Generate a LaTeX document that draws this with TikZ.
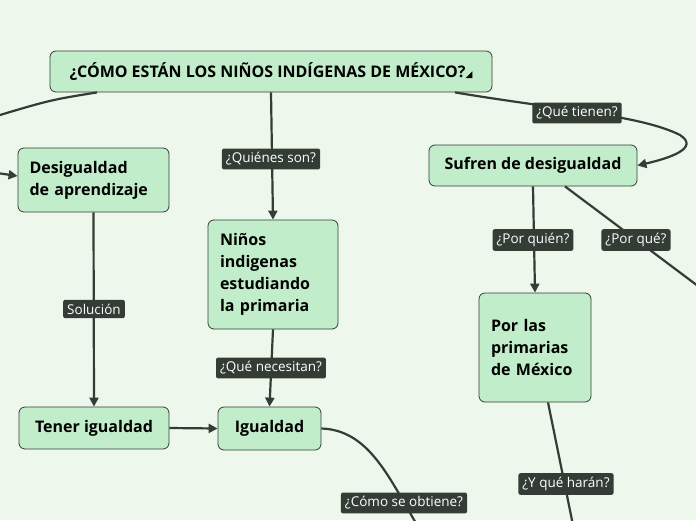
\documentclass[tikz,border=0pt]{standalone}
\usepackage{fontspec}
\setmainfont{Open Sans}
\newfontfamily\symfont{DejaVu Sans}
\usetikzlibrary{arrows.meta}
\definecolor{bg}{HTML}{EEF7EC}
\definecolor{nodefill}{HTML}{C2EDCB}
\definecolor{ink}{HTML}{333D35}
\tikzset{
  topic/.style={draw=ink,line width=0.8pt,fill=nodefill,rounded corners=6pt,font=\bfseries\fontsize{16}{22}\selectfont,text=black,align=left},
  lbl/.style={fill=ink,text=white,rounded corners=2pt,font=\fontsize{13.5}{15}\selectfont,inner sep=4pt},
  conn/.style={draw=ink,line width=2.2pt},
  arr/.style={conn,-{Triangle[length=9pt,width=9pt]}}
}
\begin{document}
\begin{tikzpicture}[x=1pt,y=-1pt]
\fill[bg] (0,0) rectangle (696,520);
\useasboundingbox (0,0) rectangle (696,520);
\clip (0,0) rectangle (696,520);
\node[topic,minimum width=442pt,minimum height=41pt,font=\bfseries\fontsize{16}{18}\selectfont,align=center] (t) at (271,71.5) {¿CÓMO ESTÁN LOS NIÑOS INDÍGENAS DE MÉXICO?{\symfont\fontsize{9}{9}\selectfont ◢}};
\node[topic,minimum width=151pt,minimum height=64pt,text width=128pt] (d) at (93.5,180) {Desigualdad\\de aprendizaje};
\node[topic,minimum width=130pt,minimum height=109pt,text width=106pt] (n) at (273,274.5) {Niños\\indigenas\\estudiando\\la primaria};
\node[topic,minimum width=208pt,minimum height=41pt,align=center] (s) at (533,165.5) {Sufren de desigualdad};
\node[topic,minimum width=112pt,minimum height=109pt,text width=88pt] (p) at (535,347.5) {Por las\\primarias\\de México};
\node[topic,minimum width=150pt,minimum height=42pt,align=center] (ti) at (94,428) {Tener igualdad};
\node[topic,minimum width=103pt,minimum height=43pt,align=center] (ig) at (269.5,428.5) {Igualdad};
\coordinate (L1) at (-10,118);
\coordinate (L2) at (-10,172);
\coordinate (R1) at (710,295);
\coordinate (B1) at (420,530);
\coordinate (B2) at (574,530);
% connectors
\draw[conn] ([xshift=-174pt]t.south) .. controls (50,100) .. (L1);
\draw[arr] (L2) -- (d.west|-0,176);
\draw[arr] (t.south) -- (n.north);
\draw[arr] ([xshift=184pt]t.south) .. controls (560,110) and (640,115) .. (680,135) .. controls (700,148) and (670,158) .. (s.east);
\draw[arr] (s.south) -- (p.north);
\draw[conn] ([xshift=32pt]s.south) -- (R1);
\draw[arr] (d.south) -- (ti.north);
\draw[arr] (n.south) -- (ig.north);
\draw[arr] (ti.east) -- (ig.west);
\draw[conn] (ig.east) .. controls (370,430) and (390,480) .. (B1);
\draw[conn] ([xshift=13pt]p.south) -- (B2);
% labels
\node[lbl] (l1) at (271,159) {¿Quiénes son?};
\node[lbl] (l2) at (577,113) {¿Qué tienen?};
\node[lbl] (l3) at (533,240) {¿Por quién?};
\node[lbl] (l4) at (636,240) {¿Por qué?};
\node[lbl] (l5) at (94,309) {Solución};
\node[lbl] (l6) at (271,368) {¿Qué necesitan?};
\node[lbl] (l7) at (566,484) {¿Y qué harán?};
\node[lbl] (l8) at (404,503) {¿Cómo se obtiene?};
\end{tikzpicture}
\end{document}
